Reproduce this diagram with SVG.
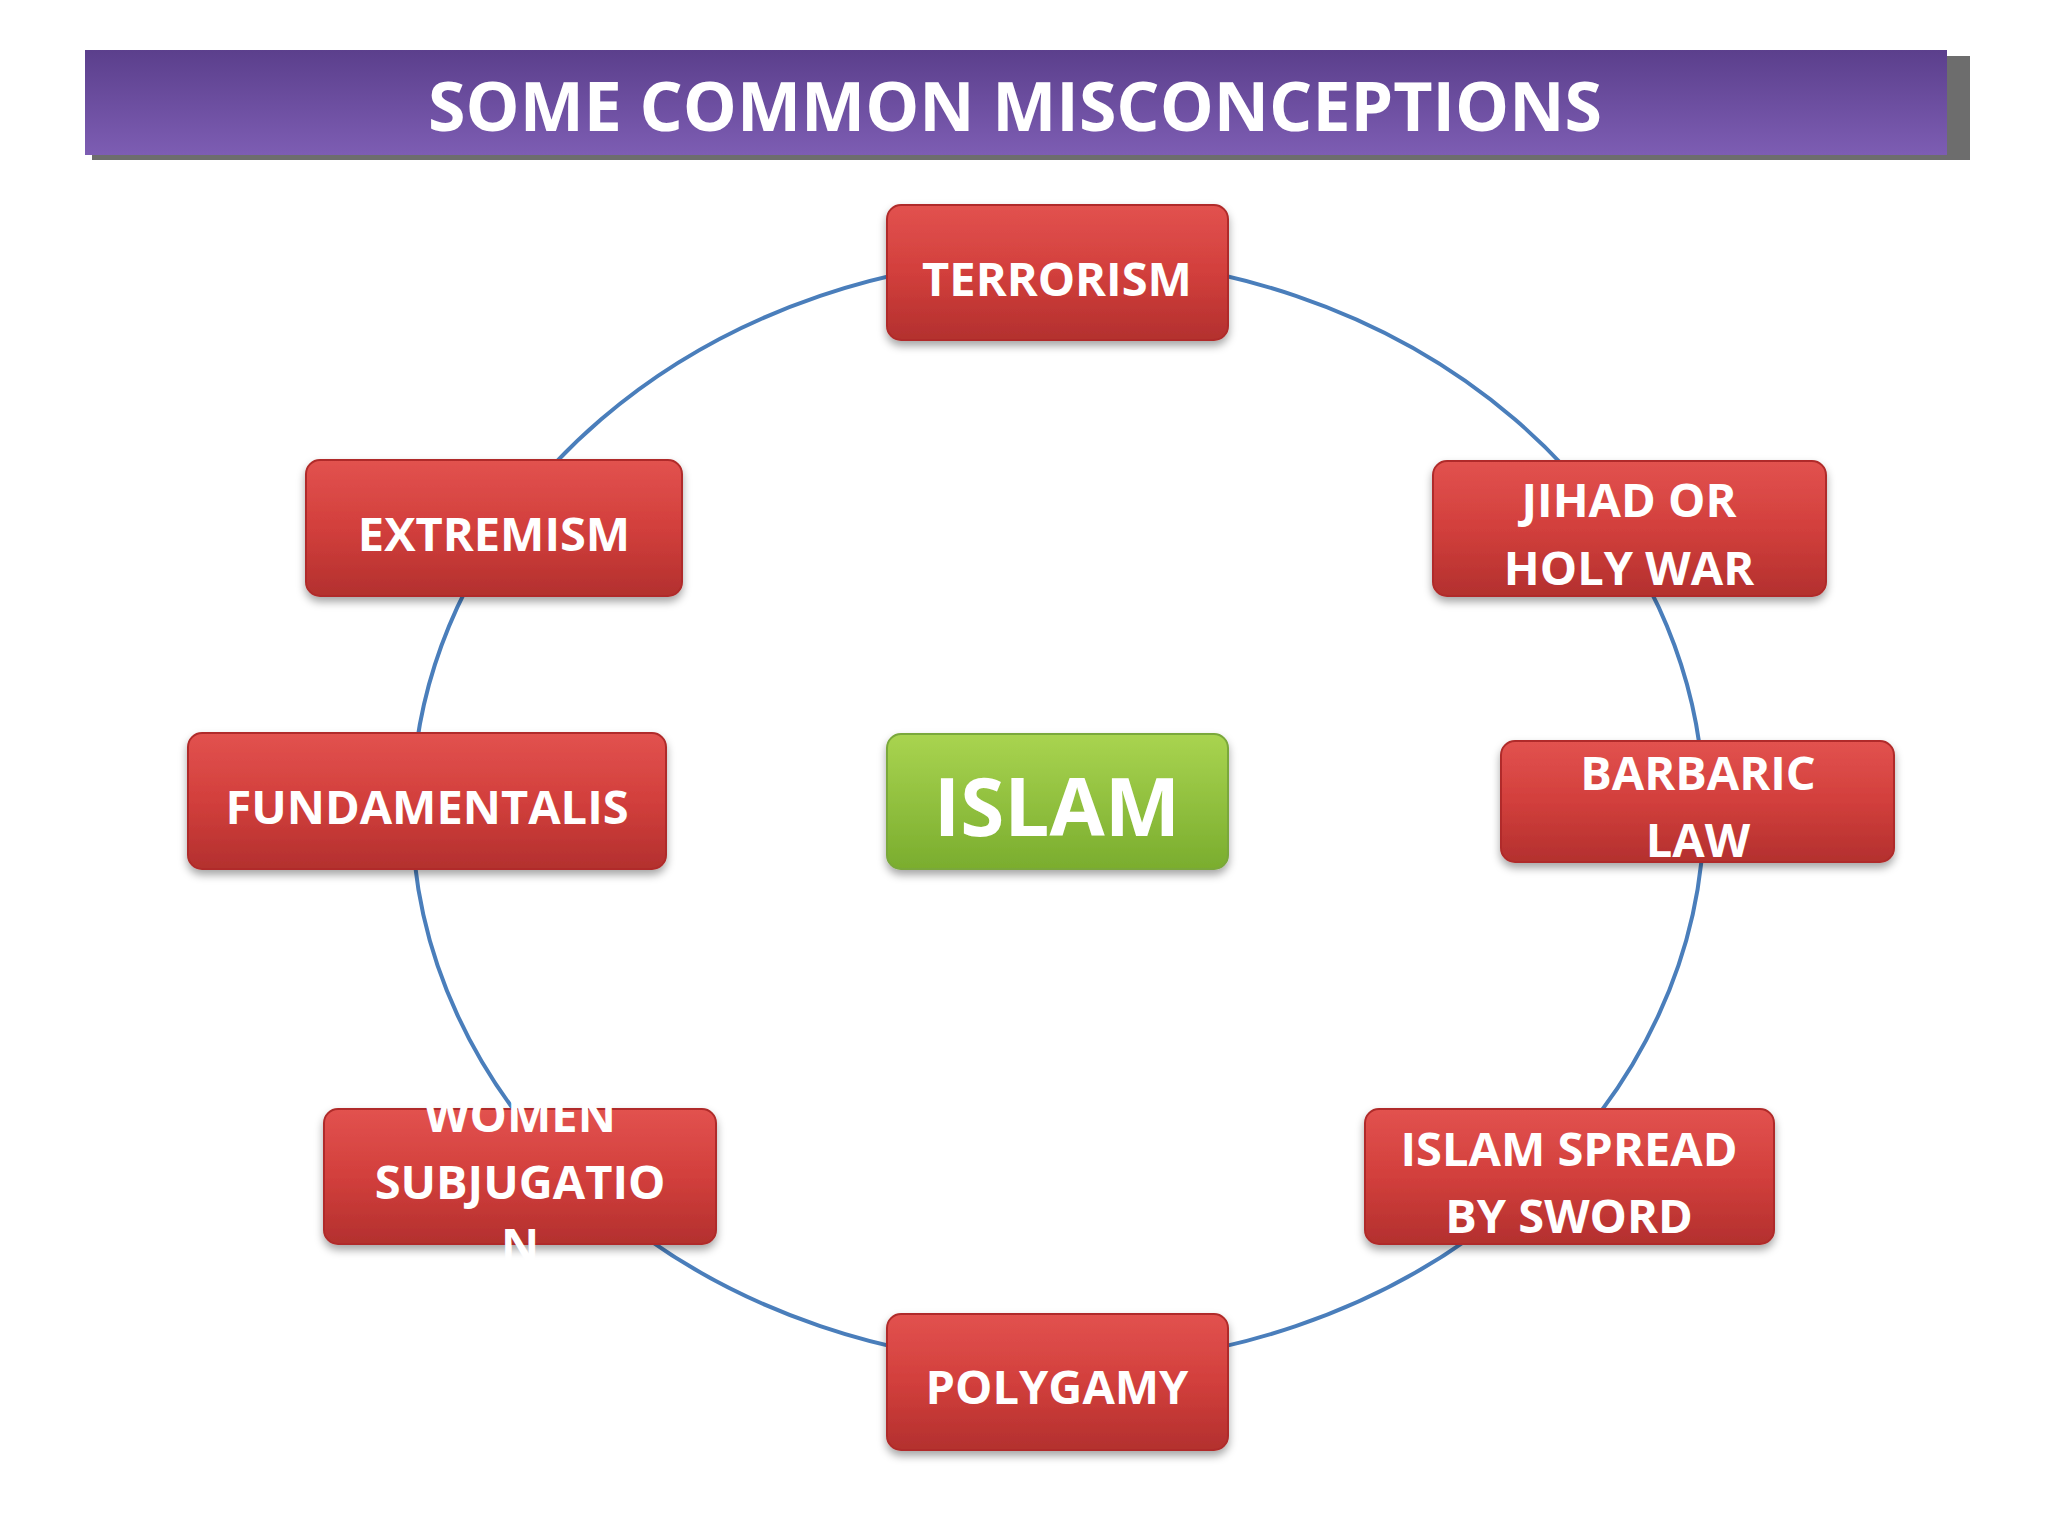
<svg xmlns="http://www.w3.org/2000/svg" width="2048" height="1536" viewBox="0 0 2048 1536">
<defs>
<linearGradient id="red" x1="0" y1="0" x2="0" y2="1"><stop offset="0" stop-color="#e2524f"/><stop offset="0.5" stop-color="#d23f3c"/><stop offset="1" stop-color="#b3302e"/></linearGradient>
<linearGradient id="green" x1="0" y1="0" x2="0" y2="1"><stop offset="0" stop-color="#a9d450"/><stop offset="1" stop-color="#7aad2e"/></linearGradient>
<linearGradient id="purple" x1="0" y1="0" x2="0" y2="1"><stop offset="0" stop-color="#5b3f8c"/><stop offset="1" stop-color="#7d5db3"/></linearGradient>
<filter id="sh" x="-10%" y="-10%" width="120%" height="130%"><feDropShadow dx="0" dy="5" stdDeviation="4" flood-color="#000" flood-opacity="0.35"/></filter>
</defs>
<style>
.r{fill:url(#red);stroke:#b02c2a;stroke-width:2;filter:url(#sh)}
.g{fill:url(#green);stroke:#7aa83a;stroke-width:2;filter:url(#sh)}
.t{font-family:"Open Sans","Noto Sans",sans-serif;font-weight:bold;fill:#fff;text-anchor:middle;font-size:47px}
</style>
<rect width="2048" height="1536" fill="#fff"/>
<g id="title">
<rect x="92" y="56" width="1878" height="104" fill="#6d6d6d"/>
<rect x="85" y="50" width="1862" height="105" fill="url(#purple)"/>
<text x="1015" y="131" class="t" style="font-size:68px">SOME COMMON MISCONCEPTIONS</text>
</g>
<g id="connectors">
<ellipse cx="1058" cy="811" rx="646" ry="554" fill="none" stroke="#4a7ebb" stroke-width="4"/>
</g>
<g id="n-terrorism"><rect class="r" x="887" y="205" width="341" height="135" rx="14"/><text class="t" x="1057" y="296">TERRORISM</text></g>
<g id="n-extremism"><rect class="r" x="306" y="460" width="376" height="136" rx="14"/><text class="t" x="494" y="551">EXTREMISM</text></g>
<g id="n-jihad"><rect class="r" x="1433" y="461" width="393" height="135" rx="14"/><text class="t" x="1629" y="517">JIHAD OR</text><text class="t" x="1629" y="585">HOLY WAR</text></g>
<g id="n-fundamentalis"><rect class="r" x="188" y="733" width="478" height="136" rx="14"/><text class="t" x="427" y="824">FUNDAMENTALIS</text></g>
<g id="n-islam"><rect class="g" x="887" y="734" width="341" height="135" rx="14"/><text class="t" x="1057" y="836" style="font-size:80px">ISLAM</text></g>
<g id="n-barbaric"><rect class="r" x="1501" y="741" width="393" height="121" rx="14"/><text class="t" x="1698" y="790">BARBARIC</text><text class="t" x="1698" y="857">LAW</text></g>
<g id="n-women"><rect class="r" x="324" y="1109" width="392" height="135" rx="14"/><text class="t" x="520" y="1132">WOMEN</text><text class="t" x="520" y="1199">SUBJUGATIO</text><text class="t" x="520" y="1262">N</text></g>
<g id="n-spread"><rect class="r" x="1365" y="1109" width="409" height="135" rx="14"/><text class="t" x="1569" y="1166">ISLAM SPREAD</text><text class="t" x="1569" y="1233">BY SWORD</text></g>
<g id="n-polygamy"><rect class="r" x="887" y="1314" width="341" height="136" rx="14"/><text class="t" x="1057" y="1404">POLYGAMY</text></g>
</svg>
